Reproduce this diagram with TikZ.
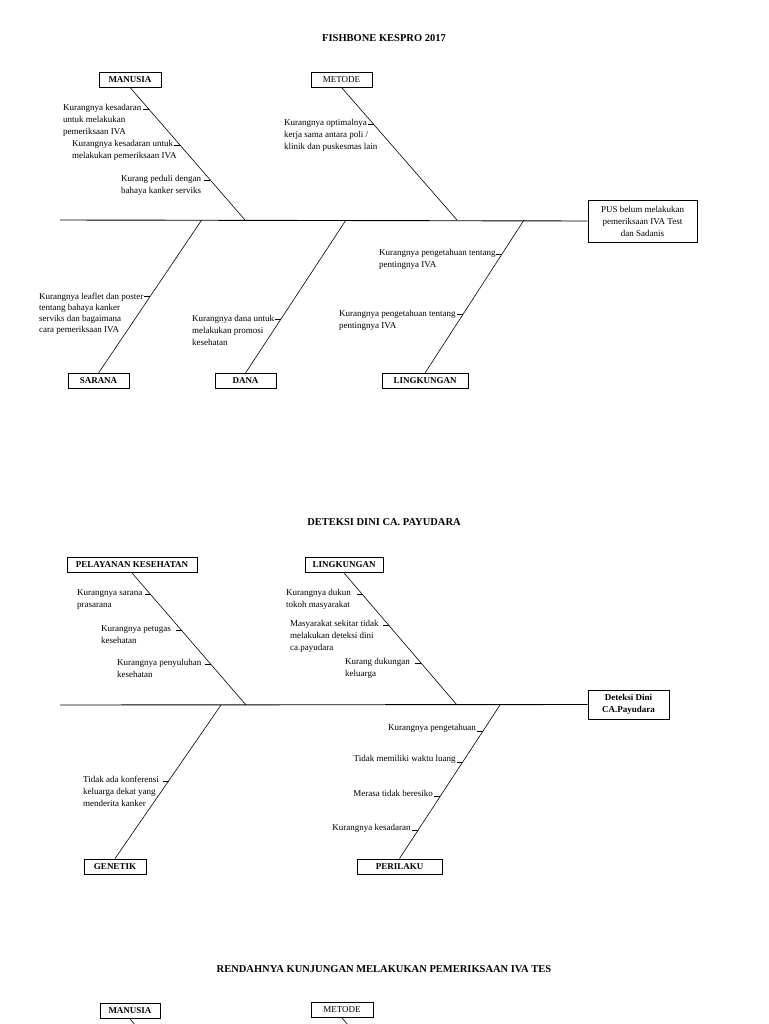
\documentclass[tikz,border=0pt]{standalone}
\usepackage{fontspec}
\setmainfont{Liberation Serif}
\usetikzlibrary{calc}

\tikzset{
    cause/.style={draw, rectangle, line width=0.9pt, inner sep=0pt, minimum height=15pt,
                  font=\fontsize{9}{12}\selectfont\bfseries},
    plain/.style={font=\fontsize{9}{12}\selectfont},
    why/.style={anchor=north west, align=left, inner sep=0pt, font=\fontsize{9}{12}\selectfont},
    whyr/.style={anchor=base east, inner sep=0pt, font=\fontsize{9}{12}\selectfont},
    title/.style={font=\fontsize{10.5}{12}\selectfont\bfseries},
    spine/.style={line width=0.9pt},
    bone/.style={line width=0.6pt},
    tick/.style={line width=0.6pt},
}

\begin{document}
\begin{tikzpicture}[x=1pt, y=-1pt]
\clip (0,0) rectangle (768,1024);
\fill[white] (0,0) rectangle (768,1024);

% FISHBONE KESPRO 2017
\node (t1) at (384, 38) [title] {FISHBONE KESPRO 2017};

\node (manusia) at (130, 79.5) [cause, minimum width=62pt] {MANUSIA};
\node (metode) at (341.5, 79.5) [cause, minimum width=61pt, plain] {METODE};
\node (sarana) at (98.5, 381) [cause, minimum width=61pt] {SARANA};
\node (dana) at (245.5, 381) [cause, minimum width=61pt] {DANA};
\node (lingk) at (425, 381) [cause, minimum width=86pt] {LINGKUNGAN};
\node (pus) at (642.5, 221) [draw, line width=0.9pt, minimum width=109pt, minimum height=42pt,
    inner sep=0pt, align=center, plain] {PUS belum melakukan\\pemeriksaan IVA Test\\dan Sadanis};

\coordinate (s1) at (60, 220);
\coordinate (manusiaend) at (245, 220);
\coordinate (metodeend) at (457, 220);
\coordinate (saranaend) at (201.7, 220);
\coordinate (danaend) at (346, 220);
\coordinate (lingkend) at (524, 220);

\draw[spine] (s1) -- (pus.west);
\draw[bone] (manusia.south) -- (manusiaend);
\draw[bone] (metode.south) -- (metodeend);
\draw[bone] (saranaend) -- (sarana.north);
\draw[bone] (danaend) -- (dana.north);
\draw[bone] (lingkend) -- (lingk.north);

\coordinate (m1) at ($(manusia.south)!0.165!(manusiaend)$);
\coordinate (m2) at ($(manusia.south)!0.436!(manusiaend)$);
\coordinate (m3) at ($(manusia.south)!0.699!(manusiaend)$);
\coordinate (me1) at ($(metode.south)!0.278!(metodeend)$);
\coordinate (sa1) at ($(saranaend)!0.5!(sarana.north)$);
\coordinate (da1) at ($(danaend)!0.649!(dana.north)$);
\coordinate (li1) at ($(lingkend)!0.221!(lingk.north)$);
\coordinate (li2) at ($(lingkend)!0.617!(lingk.north)$);

\foreach \k in {m1, m2, m3, me1, sa1, da1, li1, li2}
    \draw[tick] (\k) -- ++(-6, 0);

\node (wm1) at (63, 104) [why] {Kurangnya kesadaran\\untuk melakukan\\pemeriksaan IVA};
\node (wm2) at (72, 140) [why] {Kurangnya kesadaran untuk\\melakukan pemeriksaan IVA};
\node (wm3) at (121, 175) [why] {Kurang peduli dengan\\bahaya kanker serviks};
\node (wme1) at (284, 119) [why] {Kurangnya optimalnya\\kerja sama antara poli /\\klinik dan puskesmas lain};
\node (wsa1) at (39, 293) [why, font=\fontsize{9}{11}\selectfont] {Kurangnya leaflet dan poster\\tentang bahaya kanker\\serviks dan bagaimana\\cara pemeriksaan IVA};
\node (wda1) at (192, 315) [why] {Kurangnya dana untuk\\melakukan promosi\\kesehatan};
\node (wli1) at (379, 249) [why] {Kurangnya pengetahuan tentang\\pentingnya IVA};
\node (wli2) at (339, 310) [why] {Kurangnya pengetahuan tentang\\pentingnya IVA};

% DETEKSI DINI CA. PAYUDARA
\node (t2) at (384, 522) [title] {DETEKSI DINI CA. PAYUDARA};

\node (pelayanan) at (132, 565) [cause, minimum width=130pt] {PELAYANAN KESEHATAN};
\node (lingk2) at (344, 565) [cause, minimum width=78pt] {LINGKUNGAN};
\node (genetik) at (115, 866.5) [cause, minimum width=62pt] {GENETIK};
\node (perilaku) at (399.5, 866.5) [cause, minimum width=85pt] {PERILAKU};
\node (deteksi) at (628.5, 704.5) [cause, minimum width=81pt, minimum height=29pt,
    align=center] {Deteksi Dini\\CA.Payudara};

\coordinate (s2) at (60, 705);
\coordinate (pelayananend) at (246, 705);
\coordinate (lingk2end) at (457, 705);
\coordinate (genetikend) at (221, 705);
\coordinate (perilakuend) at (500, 705);

\draw[spine] (s2) -- (deteksi.west);
\draw[bone] (pelayanan.south) -- (pelayananend);
\draw[bone] (lingk2.south) -- (lingk2end);
\draw[bone] (genetikend) -- (genetik.north);
\draw[bone] (perilakuend) -- (perilaku.north);

\coordinate (p1) at ($(pelayanan.south)!0.165!(pelayananend)$);
\coordinate (p2) at ($(pelayanan.south)!0.436!(pelayananend)$);
\coordinate (p3) at ($(pelayanan.south)!0.692!(pelayananend)$);
\coordinate (l1) at ($(lingk2.south)!0.165!(lingk2end)$);
\coordinate (l2) at ($(lingk2.south)!0.398!(lingk2end)$);
\coordinate (l3) at ($(lingk2.south)!0.684!(lingk2end)$);
\coordinate (g1) at ($(genetikend)!0.494!(genetik.north)$);
\coordinate (r1) at ($(perilakuend)!0.169!(perilaku.north)$);
\coordinate (r2) at ($(perilakuend)!0.370!(perilaku.north)$);
\coordinate (r3) at ($(perilakuend)!0.597!(perilaku.north)$);
\coordinate (r4) at ($(perilakuend)!0.818!(perilaku.north)$);

\foreach \k in {p1, p2, p3, l1, l2, l3, g1, r1, r2, r3, r4}
    \draw[tick] (\k) -- ++(-6, 0);

\node (wp1) at (77, 589) [why] {Kurangnya sarana\\prasarana};
\node (wp2) at (101, 625) [why] {Kurangnya petugas\\kesehatan};
\node (wp3) at (117, 659) [why] {Kurangnya penyuluhan\\kesehatan};
\node (wl1) at (286, 589) [why] {Kurangnya dukun\\tokoh masyarakat};
\node (wl2) at (290, 620) [why] {Masyarakat sekitar tidak\\melakukan deteksi dini\\ca.payudara};
\node (wl3) at (345, 658) [why] {Kurang dukungan\\keluarga};
\node (wg1) at (83, 776) [why] {Tidak ada konferensi\\keluarga dekat yang\\menderita kanker};
\node (wr1) at ($(r1)+(-7, 0)$) [whyr] {Kurangnya pengetahuan};
\node (wr2) at ($(r2)+(-7, 0)$) [whyr] {Tidak memiliki waktu luang};
\node (wr3) at ($(r3)+(-7, 0)$) [whyr] {Merasa tidak beresiko};
\node (wr4) at ($(r4)+(-7, 0)$) [whyr] {Kurangnya kesadaran};

% RENDAHNYA KUNJUNGAN
\node (t3) at (384, 969) [title] {RENDAHNYA KUNJUNGAN MELAKUKAN PEMERIKSAAN IVA TES};

\node (manusia3) at (130, 1011) [cause, minimum width=60pt] {MANUSIA};
\node (metode3) at (342, 1010) [cause, minimum width=62pt, plain] {METODE};

\coordinate (manusia3end) at (244, 1151);
\coordinate (metode3end) at (456, 1151);

\draw[bone] (manusia3.south) -- (manusia3end);
\draw[bone] (metode3.south) -- (metode3end);
\end{tikzpicture}
\end{document}
